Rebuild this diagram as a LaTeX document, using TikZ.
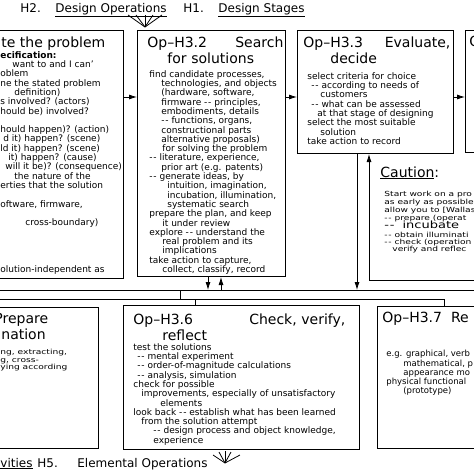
\documentclass[tikz,border=0pt]{standalone}
\usepackage{fontspec}
\setmainfont{DejaVu Sans}
\newfontfamily\wideFont[FakeStretch=1.3]{DejaVu Sans}
\usetikzlibrary{arrows.meta}
\newcommand{\dd}{-\kern.8pt-}

\begin{document}
\begin{tikzpicture}[x=1pt, y=-1pt, line width=.8pt,
	opBox/.style={draw, line width=1pt, inner sep=0pt, anchor=north west},
	opTitle/.style={anchor=north west, inner sep=0pt, align=left, font=\fontsize{14}{16}\selectfont},
	opText/.style={anchor=north west, inner sep=0pt, align=left, font=\fontsize{9}{9.3}\selectfont},
	smallText/.style={anchor=north west, inner sep=0pt, align=left, font=\wideFont\fontsize{7}{6.4}\selectfont},
	headText/.style={anchor=base west, inner sep=0pt, font=\fontsize{12}{14}\selectfont},
	flowArrow/.style={-{Latex[length=8pt,width=5pt]}}]
	\useasboundingbox (0,0) rectangle (474,474);
	\fill[white] (0,0) rectangle (474,474);
	\clip (0,0) rectangle (474,474);

	% headings
	\node[headText] (h2Label) at (20,12) {H2.};
	\node[headText] (h2Text) at (55,12) {\underline{Design Operations}};
	\node[headText] (h1Label) at (183,12) {H1.};
	\node[headText] (h1Text) at (218,12) {\underline{Design Stages}};
	\node[headText] (h4Text) at (0,467) {\underline{vities}};
	\node[headText] (h5Label) at (37,467) {H5.};
	\node[headText] (h5Text) at (77,467) {Elemental Operations};
	\coordinate (fanTop) at (145,27);
	\foreach \x in {128,136,145,153,162} \draw (\x,15) -- (fanTop);
	\coordinate (fanBottom) at (225,463);
	\foreach \x/\y in {213/455,219/452,225/451,231/452,240/455} \draw (\x,\y) -- (fanBottom);

	% stage boxes
	\node[opBox, minimum width=163pt, minimum height=248pt] (op1) at (-40,30) {};
	\node[opBox, minimum width=148pt, minimum height=246pt] (op2) at (137,30) {};
	\node[opBox, minimum width=156pt, minimum height=123pt] (op3) at (297,30) {};
	\node[opBox, minimum width=60pt, minimum height=122pt] (op4) at (465,30) {};
	\node[opBox, minimum width=158pt, minimum height=141pt] (op5) at (-60,307) {};
	\node[opBox, minimum width=236pt, minimum height=144pt] (op6) at (123,305) {};
	\node[opBox, minimum width=120pt, minimum height=142pt] (op7) at (377,306) {};

	\node[opTitle] (op1Title) at (1,36) {te the problem};
	\node[opTitle, text width=136pt] (op2Title) at (147,36) {Op–H3.2\hfill Search\\\hspace*{20pt}for solutions};
	\node[opTitle, text width=147pt] (op3Title) at (303,36) {Op–H3.3\hfill Evaluate,\\\hspace*{27pt}decide};
	\node[opTitle] (op4Title) at (469,36) {Op};
	\node[opTitle] (op5Title) at (-6,313) {Prepare\\\hspace*{7pt}nation};
	\node[opTitle, text width=212pt] (op6Title) at (133,313) {Op–H3.6\hfill Check, verify,\\\hspace*{29pt}reflect};
	\node[opTitle] (op7Title) at (382,312) {Op–H3.7\hspace{9pt}Re};

	\node[opText] (op1Text) at (0,51) {\textbf{ecification:}\\
		\hspace*{12pt}want to and I can'\\
		oblem\\
		ne the stated problem\\
		\hspace*{14pt}definition)\\
		s involved? (actors)\\
		hould be) involved?\\
		\mbox{}\\
		hould happen)? (action)\\
		\hspace*{3pt}d it) happen? (scene)\\
		ld it) happen? (scene)\\
		\hspace*{8pt}it) happen? (cause)\\
		\hspace*{5pt}will it be)? (consequence)\\
		\hspace*{14pt}the nature of the\\
		erties that the solution\\
		\mbox{}\\
		oftware, firmware,\\
		\mbox{}\\
		\hspace*{25pt}cross-boundary)\\
		\mbox{}\\ \mbox{}\\ \mbox{}\\ \mbox{}\\
		olution-independent as};
	\node[opText] (op2Text) at (149,70) {find candidate processes,\\
		\hspace*{12pt}technologies, and objects\\
		\hspace*{12pt}(hardware, software,\\
		\hspace*{12pt}firmware \dd{} principles,\\
		\hspace*{12pt}embodiments, details\\
		\hspace*{12pt}\dd{} functions, organs,\\
		\hspace*{12pt}constructional parts\\
		\hspace*{12pt}alternative proposals)\\
		\hspace*{13pt}for solving the problem\\
		\dd{} literature, experience,\\
		\hspace*{12pt}prior art (e.g. patents)\\
		\dd{} generate ideas, by\\
		\hspace*{18pt}intuition, imagination,\\
		\hspace*{18pt}incubation, illumination,\\
		\hspace*{18pt}systematic search\\
		prepare the plan, and keep\\
		\hspace*{13pt}it under review\\
		explore \dd{} understand the\\
		\hspace*{13pt}real problem and its\\
		\hspace*{13pt}implications\\
		take action to capture,\\
		\hspace*{13pt}collect, classify, record};
	\node[opText] (op3Text) at (307,72) {select criteria for choice\\
		\hspace*{4pt}\dd{} according to needs of\\
		\hspace*{13pt}customers\\
		\hspace*{4pt}\dd{} what can be assessed\\
		\hspace*{10pt}at that stage of designing\\
		select the most suitable\\
		\hspace*{13pt}solution\\
		take action to record};
	\node[smallText, font=\wideFont\fontsize{7}{7.5}\selectfont] (op5Text) at (0,349) {ng, extracting,\\g, cross-\\ying according};
	\node[opText] (op6Text) at (133,343) {test the solutions\\
		\hspace*{4pt}\dd{} mental experiment\\
		\hspace*{4pt}\dd{} order-of-magnitude calculations\\
		\hspace*{4pt}\dd{} analysis, simulation\\
		check for possible\\
		\hspace*{8pt}improvements, especially of unsatisfactory\\
		\hspace*{27pt}elements\\
		look back \dd{} establish what has been learned\\
		\hspace*{8pt}from the solution attempt\\
		\hspace*{20pt}\dd{} design process and object knowledge,\\
		\hspace*{20pt}experience};
	\node[opText, font=\fontsize{8.5}{9.2}\selectfont] (op7Text) at (386,350) {e.g. graphical, verb\\
		\hspace*{17pt}mathematical, p\\
		\hspace*{17pt}appearance mo\\
		physical functional\\
		\hspace*{17pt}(prototype)};

	% caution note
	\node[headText, font=\fontsize{14}{16}\selectfont] (cautionTitle) at (380,177) {\underline{Caution}:};
	\node[smallText] (cautionTextA) at (384,191) {Start work on a pro\\as early as possible\\allow you to [Wallas\\\dd{} prepare (operat};
	\node[headText, font=\wideFont\fontsize{10}{12}\selectfont] (cautionIncubate) at (384,228.5) {\dd\hspace{8pt}incubate};
	\node[smallText] (cautionTextB) at (384,232) {\dd{} obtain illuminati\\\dd{} check (operation\\\hspace*{8pt}verify and reflec};

	% connectors
	\coordinate (flowLine) at (0,97);
	\draw[flowArrow] (flowLine -| op1.east) -- (flowLine -| op2.west);
	\draw[flowArrow] (flowLine -| op2.east) -- (flowLine -| op3.west);
	\draw[flowArrow] (flowLine -| op3.east) -- (flowLine -| op4.west);
	\coordinate (busAWest) at (0,290);
	\coordinate (busAEast) at (474,290);
	\coordinate (busBWest) at (0,299);
	\coordinate (busBEnd) at (444,299);
	\draw (busAWest) -- (busAEast);
	\draw (busBWest) -- (busBEnd) -- (busBEnd |- op7.north);
	\coordinate (busLink) at (180,290);
	\draw (busLink) -- (busLink |- busBWest);
	\coordinate (op6Link) at (195,299);
	\draw (op6Link) -- (op6Link |- op6.north);
	\coordinate (op2Down) at (208,290);
	\coordinate (op2Up) at (221,290);
	\draw[flowArrow] (op2Down |- op2.south) -- (op2Down);
	\draw[flowArrow] (op2Up) -- (op2Up |- op2.south);
	\coordinate (op3Down) at (357,290);
	\draw[flowArrow] (op3Down |- op3.south) -- (op3Down);
	\coordinate (cautionCorner) at (369,280);
	\draw[flowArrow] (cautionCorner) -- (cautionCorner |- op3.south);
	\draw (cautionCorner) -- (480,280);
\end{tikzpicture}
\end{document}
